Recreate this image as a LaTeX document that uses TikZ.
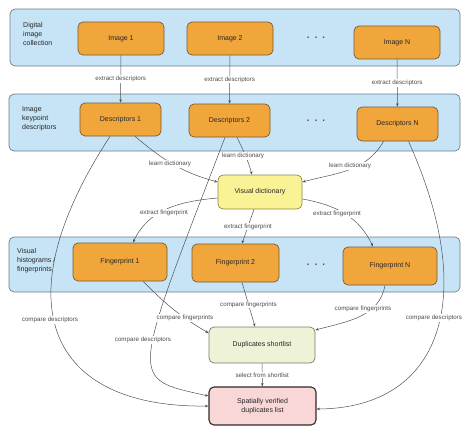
\documentclass[tikz,border=0pt]{standalone}
\usepackage{fontspec}
\setmainfont{Liberation Sans}
\usetikzlibrary{arrows.meta}

\definecolor{bandblue}{RGB}{198,228,246}
\definecolor{bandline}{RGB}{110,125,140}
\definecolor{orangebox}{RGB}{241,166,60}
\definecolor{orangeline}{RGB}{120,90,50}
\definecolor{dictyellow}{RGB}{250,243,150}
\definecolor{dictline}{RGB}{140,130,70}
\definecolor{shortgreen}{RGB}{238,243,215}
\definecolor{shortline}{RGB}{120,125,100}
\definecolor{verpink}{RGB}{249,215,215}
\definecolor{verline}{RGB}{50,40,40}
\definecolor{edgegray}{RGB}{80,80,80}

\tikzset{
  band/.style={draw=bandline, fill=bandblue, rounded corners=5pt, line width=0.7pt,
    inner sep=0pt, minimum width=451pt},
  bandlbl/.style={anchor=west, align=left, inner sep=1pt, text=black!85,
    font=\fontsize{7}{9}\selectfont},
  stage/.style={draw=orangeline, fill=orangebox, rounded corners=5pt, line width=0.7pt,
    inner sep=0pt, minimum height=33pt, text=black!85, font=\fontsize{7}{8.5}\selectfont},
  dictbox/.style={stage, draw=dictline, fill=dictyellow, minimum width=84pt, minimum height=34pt},
  listbox/.style={stage, draw=shortline, fill=shortgreen, minimum width=106pt, minimum height=36pt},
  finalbox/.style={stage, draw=verline, fill=verpink, line width=1.1pt, align=center,
    minimum width=107pt, minimum height=38pt},
  ldots/.style={inner sep=0pt, text=edgegray, font=\fontsize{10}{10}\selectfont\bfseries},
  flow/.style={draw=edgegray, line width=0.5pt, -{Stealth[length=3.5pt,width=2.6pt]}},
  lbl/.style={fill=white, inner sep=1pt, text=black!70, font=\fontsize{6.2}{7}\selectfont}
}

\begin{document}
\begin{tikzpicture}[x=1pt, y=1pt]
  \useasboundingbox (0,0) rectangle (474,-432);

  % Bands
  \node[band, minimum width=450pt, minimum height=57pt] (band1) at (235,-37.5) {};
  \node[band, minimum height=57pt] (band2) at (234.5,-122.5) {};
  \node[band, minimum height=55pt] (band3) at (234.5,-264.5) {};

  \node[bandlbl] (lbl1) at (22,-34) {Digital\\image\\collection};
  \node[bandlbl] (lbl2) at (21,-118.5) {Image\\keypoint\\descriptors};
  \node[bandlbl] (lbl3) at (16,-261) {Visual\\histograms /\\fingerprints};

  % Images
  \node[stage, minimum width=86pt] (img1) at (121,-38.5) {Image 1};
  \node[stage, minimum width=86pt] (img2) at (230,-38.5) {Image 2};
  \node[ldots] (dots1) at (316,-38) {.\hspace{5pt}.\hspace{5pt}.};
  \node[stage, minimum width=86pt] (imgN) at (397,-42.5) {Image N};

  % Descriptors
  \node[stage, minimum width=81pt] (d1) at (120.5,-119.5) {Descriptors 1};
  \node[stage, minimum width=81pt] (d2) at (229.5,-120.5) {Descriptors 2};
  \node[ldots] (dots2) at (316,-121) {.\hspace{5pt}.\hspace{5pt}.};
  \node[stage, minimum width=81pt, minimum height=34pt] (dN) at (397.5,-124) {Descriptors N};

  % Dictionary
  \node[dictbox] (vd) at (260,-192) {Visual dictionary};

  % Fingerprints
  \node[stage, minimum width=94pt, minimum height=38pt] (f1) at (120,-262) {Fingerprint 1};
  \node[stage, minimum width=87pt, minimum height=38pt] (f2) at (235.5,-263) {Fingerprint 2};
  \node[ldots] (dots3) at (316,-265) {.\hspace{5pt}.\hspace{5pt}.};
  \node[stage, minimum width=94pt, minimum height=38pt] (fN) at (390,-266) {Fingerprint N};

  % Results
  \node[listbox] (ds) at (262,-345) {Duplicates shortlist};
  \node[finalbox] (sv) at (262.5,-406) {Spatially verified\\duplicates list};

  % Connect the nodes
  \draw[flow] (img1) -- node[lbl] {extract descriptors} (d1);
  \draw[flow] (img2) -- node[lbl] {extract descriptors} (d2);
  \draw[flow] (imgN) -- node[lbl] {extract descriptors} (dN);

  \draw[flow] ([xshift=14.5pt]d1.south) to[out=-40,in=165] ([yshift=10pt]vd.west);
  \draw[flow] ([xshift=7.5pt]d2.south) to[out=-64,in=106] ([xshift=-8pt]vd.north);
  \draw[flow] ([xshift=-14pt]dN.south) to[out=-120,in=15] ([yshift=10pt]vd.east);

  \draw[flow] ([yshift=-6pt]vd.west) to[out=185,in=65] ([xshift=13pt]f1.north);
  \draw[flow] ([xshift=-6pt]vd.south) -- node[lbl] {extract fingerprint} ([xshift=6.5pt]f2.north);
  \draw[flow] ([yshift=-7pt]vd.east) to[out=-10,in=115] ([xshift=-17pt]fN.north);

  \draw[flow] ([xshift=23pt]f1.south) to[out=-45,in=150] ([yshift=12pt]ds.west);
  \draw[flow] ([xshift=6.5pt]f2.south) -- node[lbl] {compare fingerprints} ([xshift=-7pt]ds.north);
  \draw[flow] ([xshift=-5pt]fN.south) to[out=-100,in=15] ([yshift=15pt]ds.east);

  \draw[flow] ([xshift=-10.5pt]d1.south) .. controls (0,-305) and (50,-408) .. (sv.west);
  \draw[flow] ([xshift=-4.5pt]d2.south) .. controls (130,-385) and (128,-378) .. ([yshift=10pt]sv.west);
  \draw[flow] ([xshift=11pt]dN.south) .. controls (480,-300) and (440,-408) .. ([yshift=-3pt]sv.east);

  \draw[flow] (ds) -- node[lbl] {select from shortlist} (sv);

  % Labels on the curved connectors
  \node[lbl] (ld1) at (170,-164) {learn dictionary};
  \node[lbl] (ld2) at (243,-156) {learn dictionary};
  \node[lbl] (ldN) at (350,-166) {learn dictionary};
  \node[lbl] (ef1) at (164,-213) {extract fingerprint};
  \node[lbl] (efN) at (337,-214) {extract fingerprint};
  \node[lbl] (cf1) at (185,-318) {compare fingerprints};
  \node[lbl] (cfN) at (363,-309) {compare fingerprints};
  \node[lbl] (cd1) at (50,-320) {compare descriptors};
  \node[lbl] (cd2) at (143,-340) {compare descriptors};
  \node[lbl] (cdN) at (434,-318) {compare descriptors};

\end{tikzpicture}
\end{document}
